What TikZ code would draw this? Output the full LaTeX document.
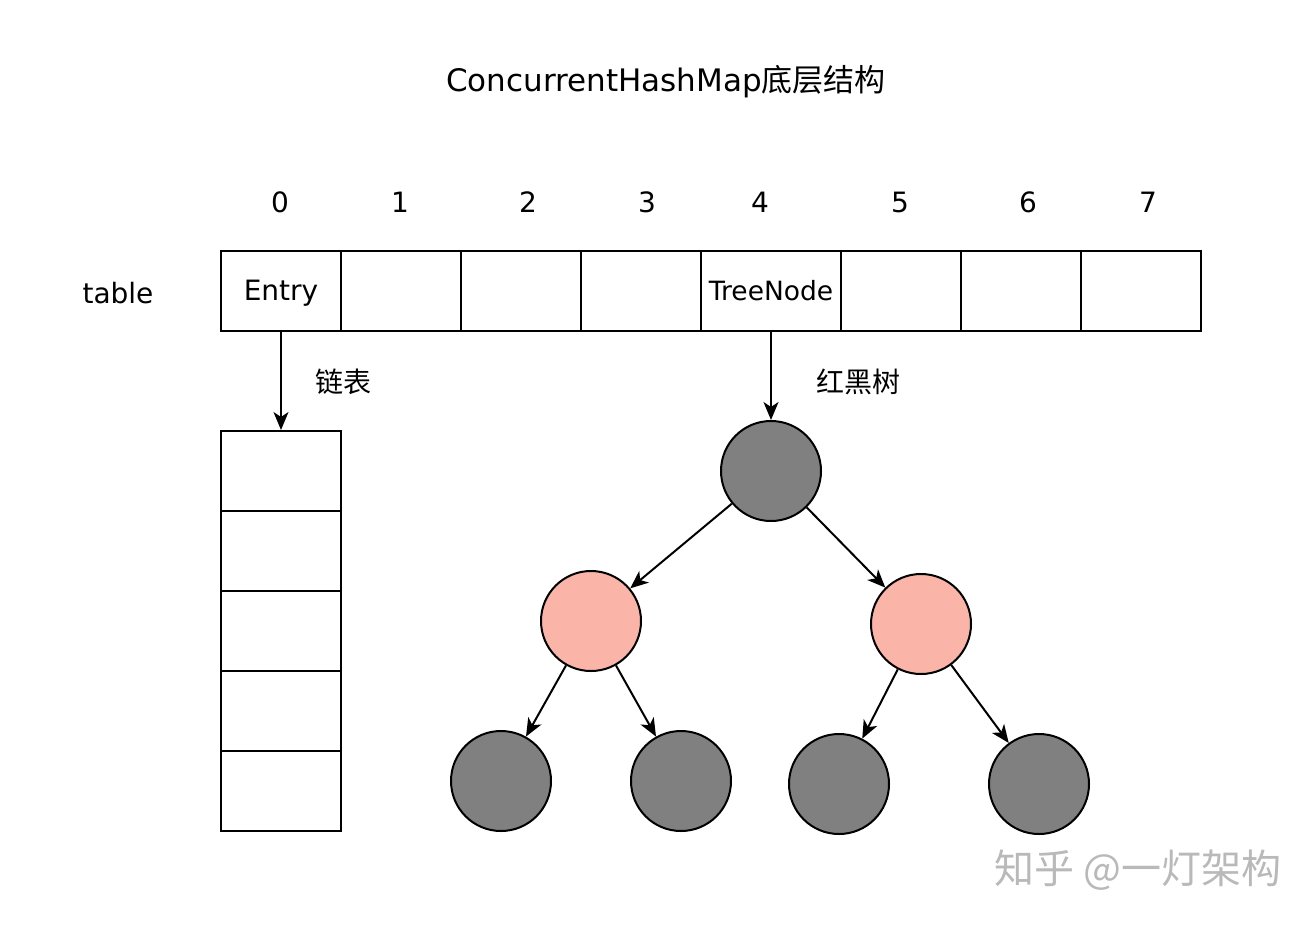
\documentclass[tikz,border=0pt]{standalone}
\usepackage{fontspec, xcolor}
\setmainfont{DejaVu Sans}
\newfontfamily\cjk{Noto Sans CJK SC}
\definecolor{treegray}{RGB}{128,128,128}
\definecolor{treepink}{RGB}{250,181,168}
\definecolor{markgray}{RGB}{185,185,185}
\usetikzlibrary{arrows.meta}
\tikzset{>={Stealth[length=18pt,width=15pt,inset=5pt]}}

\begin{document}
\begin{tikzpicture}[x=1pt, y=-1pt, line width=2pt,
    cell/.style={draw, minimum width=120pt, minimum height=80pt, inner sep=0pt, text depth=0pt},
    blacknode/.style={draw, circle, minimum size=100pt, inner sep=0pt, fill=treegray},
    rednode/.style={draw, circle, minimum size=100pt, inner sep=0pt, fill=treepink}]
    \useasboundingbox (0,0) rectangle (1314,924);
    \node (title) at (666,82) {\fontsize{31}{34}\selectfont ConcurrentHashMap{\cjk 底层结构}};
    % index row
    \foreach \i/\x in {0/280, 1/400, 2/528, 3/647, 4/760, 5/900, 6/1028, 7/1148}
        \node (i\i) at (\x,202) {\fontsize{28}{30}\selectfont \i};
    \node (table) at (118,293) {\fontsize{28}{30}\selectfont table};
    % table cells
    \node [cell] (c0) at (281,290.5) {\fontsize{28}{30}\selectfont Entry};
    \foreach \i/\x in {1/401, 2/521, 3/641, 5/901, 6/1021, 7/1141}
        \node [cell] (c\i) at (\x,290.5) {};
    \node [cell, minimum width=140pt] (c4) at (771,290.5) {\fontsize{26.5}{28}\selectfont TreeNode};
    % linked list
    \foreach \j/\y in {1/471, 2/551, 3/631, 4/711, 5/791}
        \node [cell] (l\j) at (281,\y) {};
    \draw [->] (c0.south) -- (l1.north);
    \node (listlabel) at (343,382) {\fontsize{28}{30}\selectfont\cjk 链表};
    % red-black tree
    \node [blacknode] (root) at (771,471) {};
    \node [rednode] (left) at (591,621) {};
    \node [rednode] (right) at (921,624) {};
    \node [blacknode] (ll) at (501,781) {};
    \node [blacknode] (lr) at (681,781) {};
    \node [blacknode] (rl) at (839,784) {};
    \node [blacknode] (rr) at (1039,784) {};
    \draw [->] (c4.south) -- (root.north);
    \node (treelabel) at (858,382) {\fontsize{28}{30}\selectfont\cjk 红黑树};
    \draw [->] (root) -- (left);
    \draw [->] (root) -- (right);
    \draw [->] (left) -- (ll);
    \draw [->] (left) -- (lr);
    \draw [->] (right) -- (rl);
    \draw [->] (right) -- (rr);
    \node [markgray] (mark) at (1138,870) {\fontsize{40}{42}\selectfont\cjk 知乎 @一灯架构};
\end{tikzpicture}
\end{document}
